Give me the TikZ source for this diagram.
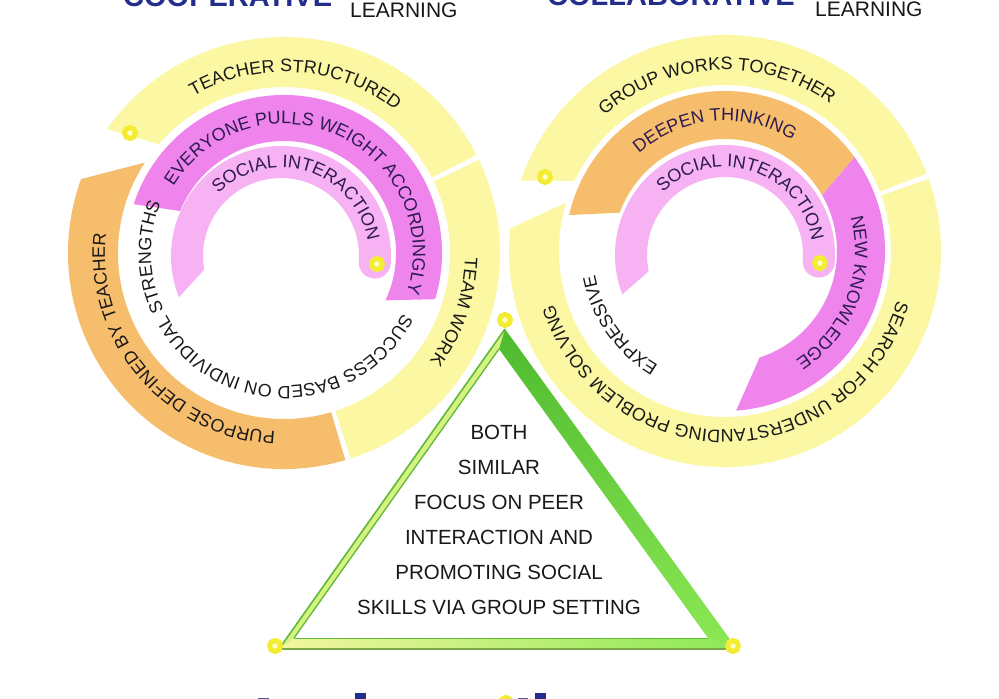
\documentclass[tikz,border=0pt]{standalone}
\usepackage{fontspec}
\setmainfont{Liberation Sans}
\usetikzlibrary{decorations.text}
\definecolor{ringY}{RGB}{251,247,163}
\definecolor{ringO}{RGB}{246,190,108}
\definecolor{ringM}{RGB}{238,132,236}
\definecolor{ringP}{RGB}{246,178,243}
\definecolor{navy}{RGB}{35,45,140}
\definecolor{dotY}{RGB}{244,236,50}
\definecolor{dotC}{RGB}{255,255,205}
\definecolor{txtD}{RGB}{45,27,80}
\definecolor{txtK}{RGB}{25,25,25}
\definecolor{grA}{RGB}{78,186,46}
\definecolor{grB}{RGB}{140,232,85}
\definecolor{grL}{RGB}{214,242,130}
\definecolor{grLine}{RGB}{95,185,55}
\definecolor{grOl}{RGB}{120,168,69}
\definecolor{paleY}{RGB}{242,246,160}
\newcommand{\ringfnt}{\fontsize{18bp}{20bp}\selectfont}
\newcommand{\annsec}[7]{\fill[#1] (#2:#6) arc[start angle=#2,end angle=#3,radius=#6] -- (#4:#7) arc[start angle=#4,end angle=#5,radius=#7] -- cycle;}
\newcommand{\arctext}[5]{\path[decorate,decoration={text along path,text align=center,text color=#5,text={|\ringfnt|#4}}] (#2:#1) arc[start angle=#2,end angle=#3,radius=#1];}
\tikzset{
  ydot/.style={circle,draw=dotY,line width=5bp,fill=dotC,minimum size=11bp,inner sep=0pt},
  tritxt/.style={anchor=base,inner sep=0pt,text=txtK,font=\fontsize{20.5bp}{24bp}\selectfont},
  ttl/.style={anchor=base west,inner sep=0pt,text=navy,font=\bfseries\fontsize{29bp}{30bp}\selectfont},
  lrn/.style={anchor=base west,inner sep=0pt,text=txtK,font=\fontsize{21bp}{24bp}\selectfont}
}
\begin{document}
\begin{tikzpicture}[x=1bp,y=1bp]
\useasboundingbox (0,0) rectangle (999,-699);
\clip (0,0) rectangle (999,-699);
\fill[white] (0,0) rectangle (999,-699);

% titles (cut off at the top)
\node[ttl] (ttlA) at (123,-7) {COOPERATIVE};
\node[lrn] (lrnA) at (350,-17.5) {LEARNING};
\node[ttl] (ttlB) at (547,-6) {COLLABORATIVE};
\node[lrn] (lrnB) at (815,-17) {LEARNING};

% ---------- left circle ----------
\coordinate (Lc) at (284,-253);
\begin{scope}[shift={(Lc)}]
  \annsec{ringY}{145}{27}{27}{139}{216}{166}
  \annsec{ringY}{25.5}{-72}{-72}{25.5}{216}{166}
  \annsec{ringO}{-73.5}{-200}{-213}{-73.5}{216}{166}
  \annsec{ringM}{162}{-17}{-25}{158}{158}{112}
  \arctext{181}{150}{22}{TEACHER STRUCTURED}{txtK}
  \arctext{181}{20}{-58}{TEAM WORK}{txtK}
  \arctext{179}{287}{154}{PURPOSE DEFINED BY TEACHER}{txtK}
  \arctext{133}{-21}{-208}{SUCCESS BASED ON INDIVIDUAL STRENGTHS}{txtK}
  \arctext{129}{160}{-29}{EVERYONE PULLS WEIGHT ACCORDINGLY}{txtD}
\end{scope}
\coordinate (Lp) at (281,-256);
\begin{scope}[shift={(Lp)}]
  \annsec{ringP}{202}{-4}{-4}{190}{110}{78}
  \fill[ringP] (-4:94) circle[radius=16];
  \arctext{88}{150}{-5}{SOCIAL INTERACTION}{txtD}
\end{scope}

% ---------- right circle ----------
\coordinate (Rc) at (725,-251);
\begin{scope}[shift={(Rc)}]
  \annsec{ringY}{161}{21}{21}{155}{216}{166}
  \annsec{ringY}{19.5}{-186}{-197}{19.5}{216}{166}
  \annsec{ringM}{36}{-86}{-72}{30}{160}{112}
  \annsec{ringO}{167}{36}{30}{160}{160}{112}
  \arctext{181}{160}{26}{GROUP WORKS TOGETHER}{txtK}
  \arctext{179}{-4.5}{-174.5}{SEARCH FOR UNDERSTANDING PROBLEM SOLVING}{txtK}
  \arctext{130}{170}{20}{DEEPEN THINKING}{txtD}
  \arctext{130}{40}{-82}{NEW KNOWLEDGE}{txtD}
  \arctext{132}{-100}{-190}{EXPRESSIVE}{txtK}
\end{scope}
\coordinate (Rp) at (725,-255);
\begin{scope}[shift={(Rp)}]
  \annsec{ringP}{201}{-4}{-4}{192}{110}{78}
  \fill[ringP] (-4:94) circle[radius=16];
  \arctext{88}{150}{-6}{SOCIAL INTERACTION}{txtD}
\end{scope}

% ---------- triangle ----------
\coordinate (A) at (505,-329);
\coordinate (B) at (279,-649);
\coordinate (C) at (737,-649);
\coordinate (a) at (499,-349);
\coordinate (b) at (294,-638);
\coordinate (c) at (708,-638);
\shade[left color=paleY,right color=grB] (B) -- (C) -- (c) -- (b) -- cycle;
\draw[grOl,line width=2bp] (B) -- (C);
\draw[grLine,line width=1bp] (b) -- (c);
\fill[grL] (A) -- (B) -- (b) -- (a) -- cycle;
\draw[grLine,line width=1.6bp] (A) -- (B);
\draw[grLine,line width=1.3bp] (a) -- (b);
\shade[top color=grA,bottom color=grB] (A) -- (a) -- (c) -- (C) -- cycle;

\node[tritxt] (t1) at (499,-439) {BOTH};
\node[tritxt] (t2) at (499,-474) {SIMILAR};
\node[tritxt] (t3) at (499,-509) {FOCUS ON PEER};
\node[tritxt] (t4) at (499,-544) {INTERACTION AND};
\node[tritxt] (t5) at (499,-579) {PROMOTING SOCIAL};
\node[tritxt] (t6) at (499,-614) {SKILLS VIA GROUP SETTING};

% ---------- dots ----------
\node[ydot] (d1) at (130,-133) {};
\node[ydot] (d2) at (377,-264) {};
\node[ydot] (d3) at (545,-177) {};
\node[ydot] (d4) at (820,-263) {};
\node[ydot] (d5) at (505,-320) {};
\node[ydot] (d6) at (275,-646) {};
\node[ydot] (d7) at (733,-646) {};
\node[ydot] (d8) at (506,-703) {};

% cut-off letters at the bottom
\fill[navy!80] (258,-697.5) rectangle (269,-700);
\fill[navy] (355,-693) rectangle (366,-700);
\fill[navy!80] (518,-697.5) rectangle (528,-700);
\fill[navy] (535,-693) rectangle (546,-700);
\end{tikzpicture}
\end{document}
